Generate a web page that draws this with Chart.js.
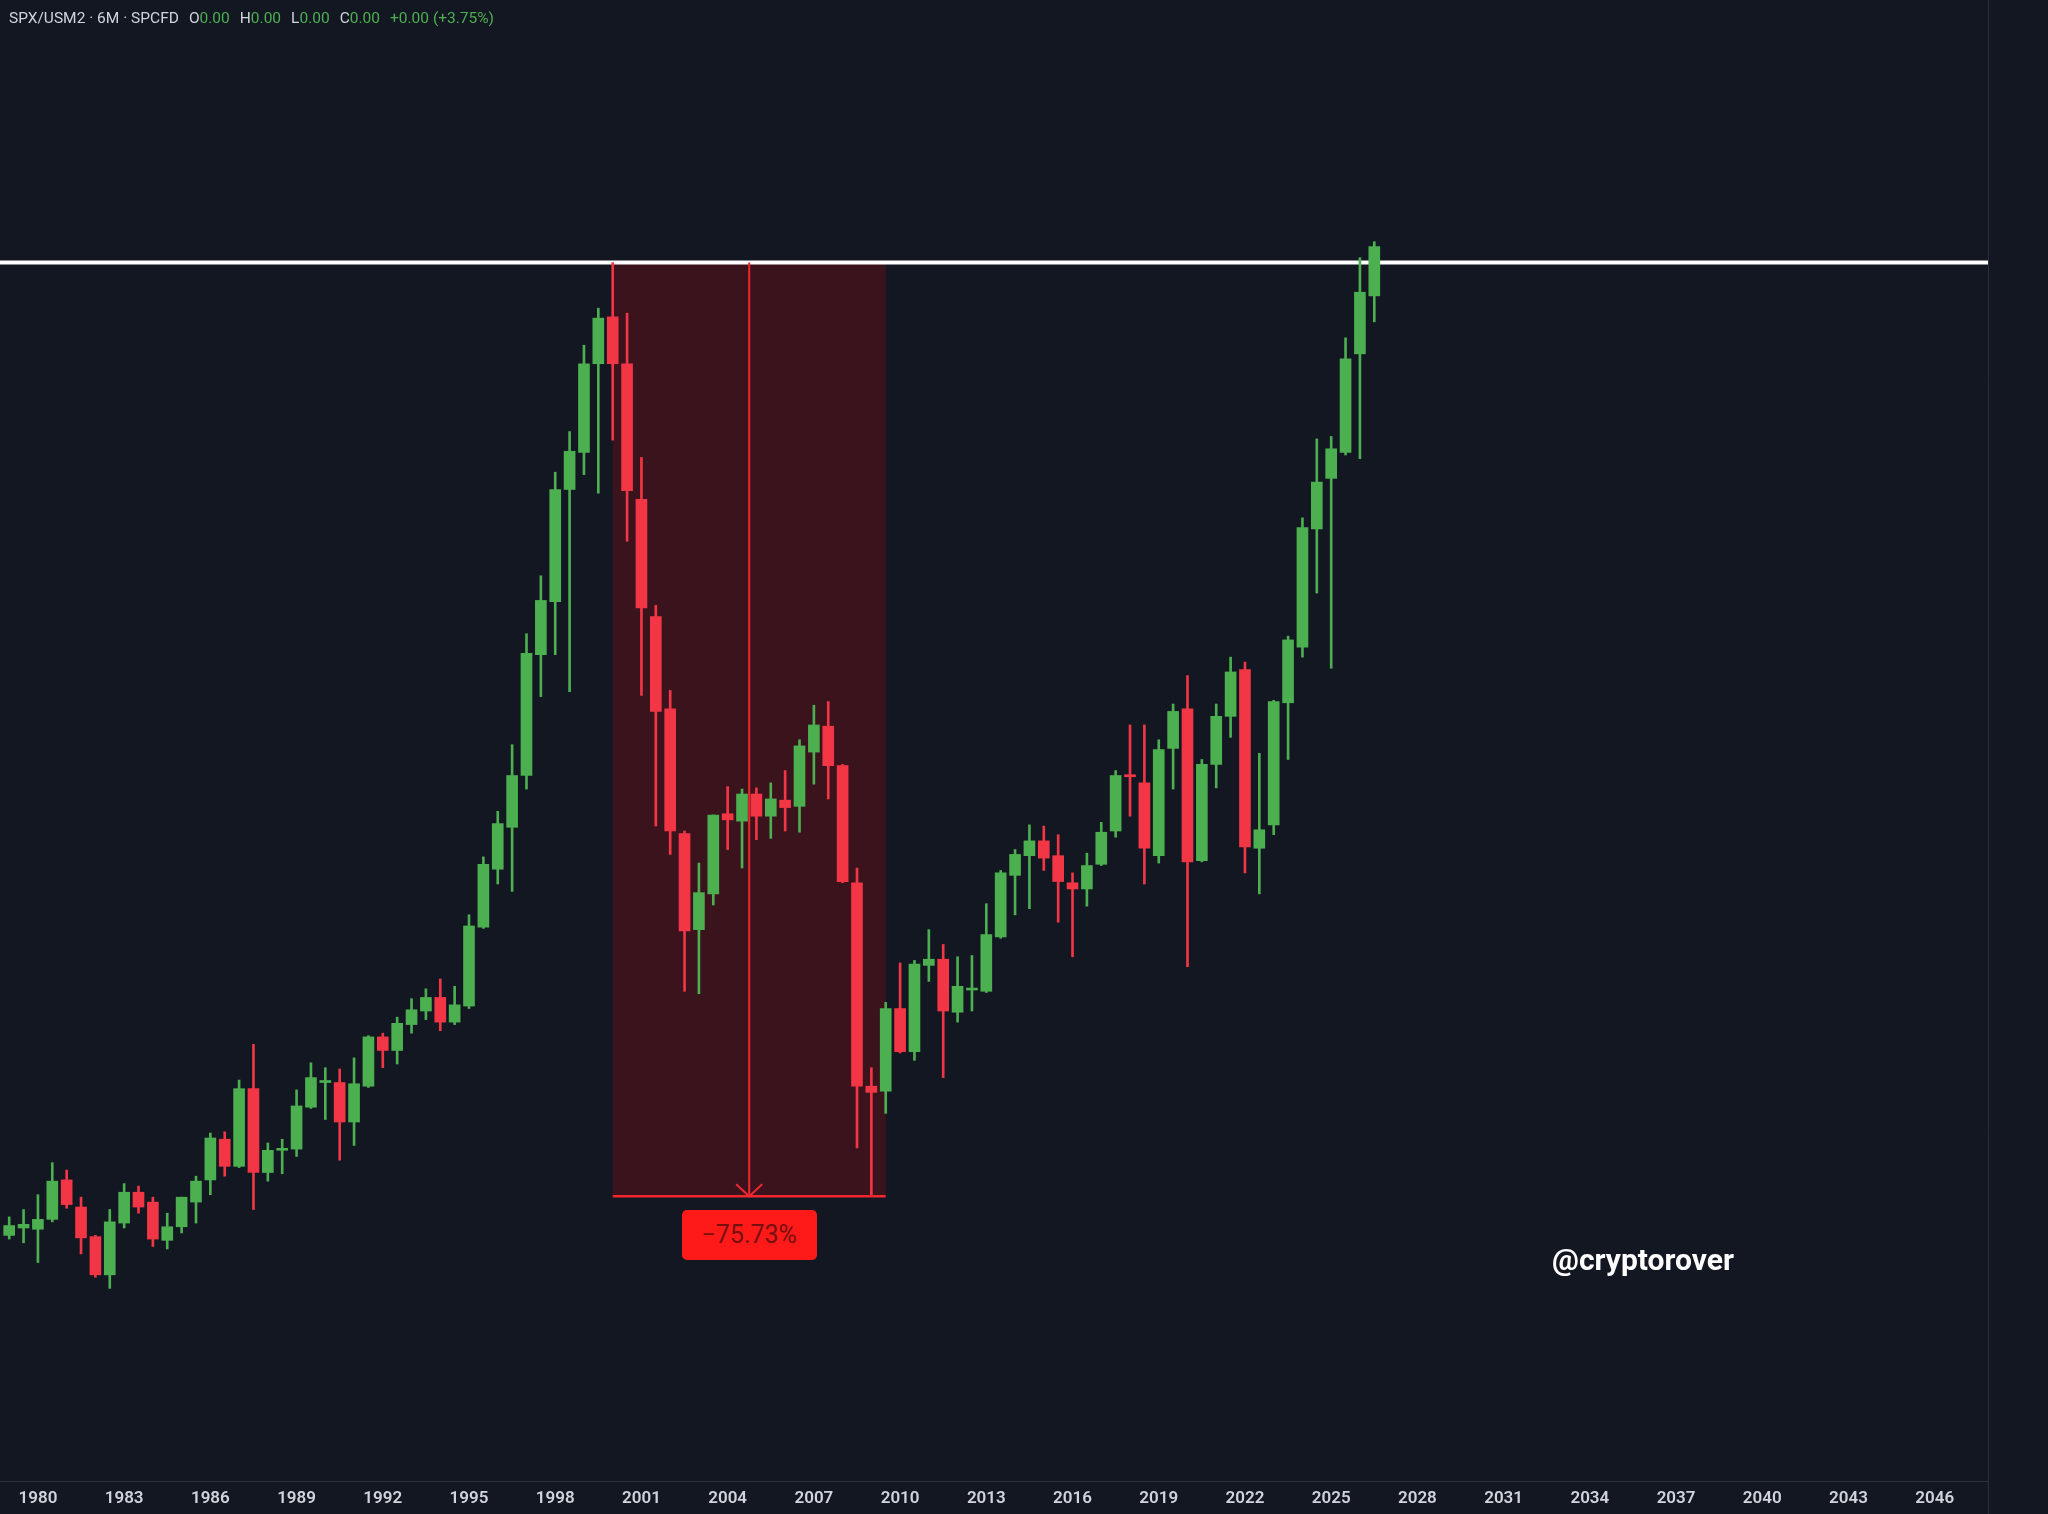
<!DOCTYPE html>
<html>
<head>
<meta charset="utf-8">
<script src="https://cdn.jsdelivr.net/npm/chart.js@4.4.1/dist/chart.umd.min.js"></script>
<style>
  html, body { margin: 0; padding: 0; background: #131722; }
  #wrap { position: relative; width: 2048px; height: 1514px; background: #131722; overflow: hidden; }
  #c { position: absolute; left: 0; top: 0; }
  #hdr { position: absolute; left: 9px; top: 9px; font: 15.5px Roboto, "Noto Sans", sans-serif; line-height: 18px; color: #d1d4dc; white-space: nowrap; }
  #hdr .g { color: #4caf50; }
  #hdr .sp { margin-left: 10px; }
  #wm { position: absolute; left: 1643px; top: 1259px; transform: translate(-50%, -50%); font: 700 30px Roboto, "Noto Sans", sans-serif; color: #ffffff; white-space: nowrap; }
  #pct { position: absolute; display: none; width: 135px; height: 50px; background: #ff1a1a; border-radius: 5px; color: #76100f; font: 25px Roboto, "Noto Sans", sans-serif; line-height: 50px; text-align: center; white-space: nowrap; }
</style>
</head>
<body>
<div id="wrap">
  <canvas id="c" width="2048" height="1514"></canvas>
  <div id="hdr"><span>SPX/USM2 · 6M · SPCFD</span><span class="sp">O<span class="g">0.00</span></span><span class="sp">H<span class="g">0.00</span></span><span class="sp">L<span class="g">0.00</span></span><span class="sp">C<span class="g">0.00</span></span><span class="sp g">+0.00 (+3.75%)</span></div>
  <div id="wm">@cryptorover</div>
  <div id="pct"></div>
</div>
<script>
// ---- categories: half-year periods (6M candles), including empty future slots ----
const categories = [];
for (let yr = 1979; yr <= 2047; yr++) { categories.push(yr + ' H1', yr + ' H2'); }

// ---- tick labels shown on the time axis ----
const tickYears = [1980, 1983, 1986, 1989, 1992, 1995, 1998, 2001, 2004, 2007, 2010, 2013, 2016,
                   2019, 2022, 2025, 2028, 2031, 2034, 2037, 2040, 2043, 2046];

// ---- SPX / M2 ratio (index: 2000 high = 100), 6M candles from 1979 H1 ----
const opens = [
  21.1, 21.7, 21.6, 22.4, 25.6, 23.4, 21.0, 17.9, 22.1, 24.6,
  23.8, 20.7, 21.8, 23.8, 25.6, 28.9, 26.7, 33.0, 26.2, 28.0,
  28.1, 31.5, 33.5, 33.5, 30.3, 33.2, 37.2, 36.1, 38.2, 39.3,
  40.4, 38.4, 39.7, 46.1, 50.8, 54.2, 58.4, 68.2, 72.5, 81.6,
  84.6, 91.8, 95.6, 91.8, 80.8, 71.3, 63.8, 53.7, 45.9, 48.8,
  55.3, 54.7, 56.9, 55.1, 56.4, 55.9, 60.3, 62.4, 59.2, 49.7,
  33.2, 32.8, 39.5, 36.0, 43.0, 43.5, 39.2, 41.0, 40.9, 45.3,
  50.3, 51.9, 53.1, 51.9, 49.7, 49.2, 51.2, 53.9, 58.4, 57.8,
  51.9, 60.6, 63.8, 51.5, 59.3, 63.2, 67.0, 52.5, 54.4, 64.3,
  68.8, 78.4, 82.5, 84.6, 92.6, 97.3
];
const highs = [
  22.6, 23.2, 24.4, 27.0, 26.4, 24.2, 21.1, 23.2, 25.3, 25.1,
  24.2, 22.9, 24.2, 25.9, 29.4, 29.5, 33.7, 36.6, 28.6, 28.9,
  32.9, 35.1, 34.7, 34.6, 35.5, 37.3, 37.5, 38.8, 40.3, 41.1,
  41.9, 41.3, 47.1, 51.8, 55.5, 60.9, 69.9, 74.6, 83.0, 86.3,
  93.3, 96.3, 100.0, 95.9, 84.2, 72.2, 65.3, 53.9, 51.3, 55.2,
  57.5, 57.3, 57.4, 57.8, 58.8, 61.3, 64.1, 64.4, 59.3, 50.9,
  34.7, 40.0, 43.2, 43.4, 45.9, 44.7, 43.7, 43.8, 48.0, 50.7,
  52.4, 54.4, 54.3, 53.6, 50.5, 52.1, 54.6, 58.8, 62.5, 62.5,
  61.3, 64.2, 66.5, 59.7, 64.2, 68.0, 67.6, 60.2, 64.5, 69.7,
  79.3, 85.7, 85.9, 93.9, 100.4, 101.7
];
const lows = [
  20.8, 20.5, 18.9, 22.2, 23.3, 19.6, 17.7, 16.8, 21.7, 22.9,
  20.2, 20.0, 21.3, 22.1, 24.4, 25.9, 26.6, 23.2, 25.5, 26.1,
  27.5, 31.4, 30.5, 27.2, 28.4, 33.1, 34.7, 35.0, 37.5, 38.6,
  37.7, 38.2, 39.5, 46.0, 49.6, 49.0, 57.3, 64.8, 68.2, 65.2,
  82.8, 81.3, 85.6, 77.4, 64.9, 54.3, 52.0, 40.9, 40.7, 47.9,
  52.4, 50.9, 53.2, 53.3, 53.9, 53.8, 57.7, 56.5, 49.7, 28.2,
  24.27, 31.0, 35.9, 35.3, 41.7, 33.9, 38.4, 39.3, 40.8, 45.2,
  47.1, 47.6, 50.7, 46.5, 43.7, 47.8, 51.1, 53.4, 55.1, 49.6,
  51.3, 57.3, 42.9, 51.4, 57.4, 61.5, 50.5, 48.8, 53.6, 59.7,
  68.0, 73.2, 67.1, 84.4, 84.1, 95.2
];
const closes = [
  21.9, 22.0, 22.4, 25.5, 23.6, 20.9, 17.9, 22.2, 24.6, 23.4,
  20.8, 21.8, 24.2, 25.5, 29.0, 26.7, 33.0, 26.2, 28.0, 28.1,
  31.6, 33.9, 33.6, 30.3, 33.4, 37.2, 36.1, 38.3, 39.4, 40.4,
  38.4, 39.8, 46.2, 51.2, 54.5, 58.4, 68.3, 72.6, 81.6, 84.7,
  91.8, 95.5, 91.8, 81.5, 72.0, 63.6, 53.9, 45.8, 48.9, 55.2,
  54.8, 56.9, 55.1, 56.5, 55.8, 60.8, 62.5, 59.2, 49.8, 33.2,
  32.7, 39.5, 36.0, 43.1, 43.5, 39.3, 41.3, 41.1, 45.5, 50.5,
  52.0, 53.1, 51.7, 49.8, 49.2, 51.1, 53.8, 58.4, 58.3, 52.5,
  60.5, 63.6, 51.4, 59.3, 63.2, 66.8, 52.6, 54.0, 64.4, 69.4,
  78.5, 82.2, 84.9, 92.2, 97.6, 101.3
];

// ---- annotations ----
const resistanceLevel = 100;      // 2000 high (horizontal white line)
const rangeStartIndex = 42;       // candle of the 2000 high
const rangeEndIndex = 61;         // end of the measured range
const rangeLow = 24.27;           // 2009 low

const UP = '#4caf50', DOWN = '#f23645';
const candleColor = (ctx) => closes[ctx.dataIndex] >= opens[ctx.dataIndex] ? UP : DOWN;

const bodies = opens.map((o, i) => [o, closes[i]]);
const wicks = lows.map((l, i) => [l, highs[i]]);

const pctEl = document.getElementById('pct');
const pctValue = (rangeLow - resistanceLevel) / resistanceLevel * 100;
pctEl.textContent = (pctValue < 0 ? '\u2212' : '+') + Math.abs(pctValue).toFixed(2) + '%';

const overlay = {
  id: 'overlay',
  beforeDatasetsDraw(chart) {
    const { ctx, chartArea: a, scales: { x, y } } = chart;
    const x0 = x.getPixelForValue(rangeStartIndex), x1 = x.getPixelForValue(rangeEndIndex);
    const yt = y.getPixelForValue(resistanceLevel), yb = y.getPixelForValue(rangeLow);
    const paneRight = a.right + 3;
    ctx.save();
    ctx.fillStyle = 'rgba(255,0,0,0.17)';
    ctx.fillRect(x0, yt, x1 - x0, yb - yt);
    ctx.strokeStyle = '#ffffff';
    ctx.lineWidth = 4;
    ctx.beginPath();
    ctx.moveTo(0, yt);
    ctx.lineTo(paneRight, yt);
    ctx.stroke();
    // price-scale separator and time-axis line
    ctx.strokeStyle = '#2a2e39';
    ctx.lineWidth = 1;
    ctx.beginPath();
    ctx.moveTo(paneRight + 0.5, 0);
    ctx.lineTo(paneRight + 0.5, chart.height);
    ctx.moveTo(0, a.bottom + 0.5);
    ctx.lineTo(paneRight, a.bottom + 0.5);
    ctx.stroke();
    ctx.restore();
  },
  afterDatasetsDraw(chart) {
    const { ctx, scales: { x, y } } = chart;
    const x0 = x.getPixelForValue(rangeStartIndex), x1 = x.getPixelForValue(rangeEndIndex);
    const yt = y.getPixelForValue(resistanceLevel), yb = y.getPixelForValue(rangeLow);
    const cx = (x0 + x1) / 2;
    ctx.save();
    ctx.strokeStyle = '#f0282e';
    ctx.lineWidth = 2;
    ctx.beginPath();
    ctx.moveTo(cx, yt); ctx.lineTo(cx, yb);
    ctx.stroke();
    ctx.beginPath();
    ctx.moveTo(cx - 13, yb - 12); ctx.lineTo(cx, yb); ctx.lineTo(cx + 13, yb - 12);
    ctx.stroke();
    ctx.lineWidth = 2.5;
    ctx.beginPath();
    ctx.moveTo(x0, yb); ctx.lineTo(x1, yb);
    ctx.stroke();
    ctx.restore();
    pctEl.style.display = 'block';
    pctEl.style.left = (cx - 67.5) + 'px';
    pctEl.style.top = (yb + 14) + 'px';
  }
};

new Chart(document.getElementById('c'), {
  type: 'bar',
  data: {
    labels: categories,
    datasets: [
      { label: 'Body', data: bodies, backgroundColor: candleColor, borderWidth: 0,
        barThickness: 11, minBarLength: 2, grouped: false, order: 0 },
      { label: 'Wick', data: wicks, backgroundColor: candleColor, borderWidth: 0,
        barThickness: 2, grouped: false, order: 1 }
    ]
  },
  options: {
    responsive: false,
    animation: false,
    devicePixelRatio: 1,
    layout: { padding: { left: 2, right: 0, top: 0, bottom: 0 } },
    plugins: { legend: { display: false }, tooltip: { enabled: false } },
    scales: {
      x: {
        type: 'category',
        offset: true,
        grid: { display: false, drawTicks: false },
        border: { display: false },
        ticks: {
          autoSkip: false, maxRotation: 0, minRotation: 0, padding: 8,
          color: '#d1d4dc',
          font: { family: 'Roboto', size: 17, weight: '600' },
          callback: function (v) {
            const lab = this.getLabelForValue(v);
            const yr = parseInt(lab, 10);
            return (lab.endsWith('H1') && tickYears.includes(yr)) ? String(yr) : null;
          }
        },
        afterFit: (s) => { s.height = 33; }
      },
      y: {
        position: 'right',
        min: 1.18,
        max: 121.3,
        grid: { display: false, drawTicks: false },
        border: { display: false },
        ticks: { display: false },
        afterFit: (s) => { s.width = 63; }
      }
    }
  },
  plugins: [overlay]
});
</script>
</body>
</html>
